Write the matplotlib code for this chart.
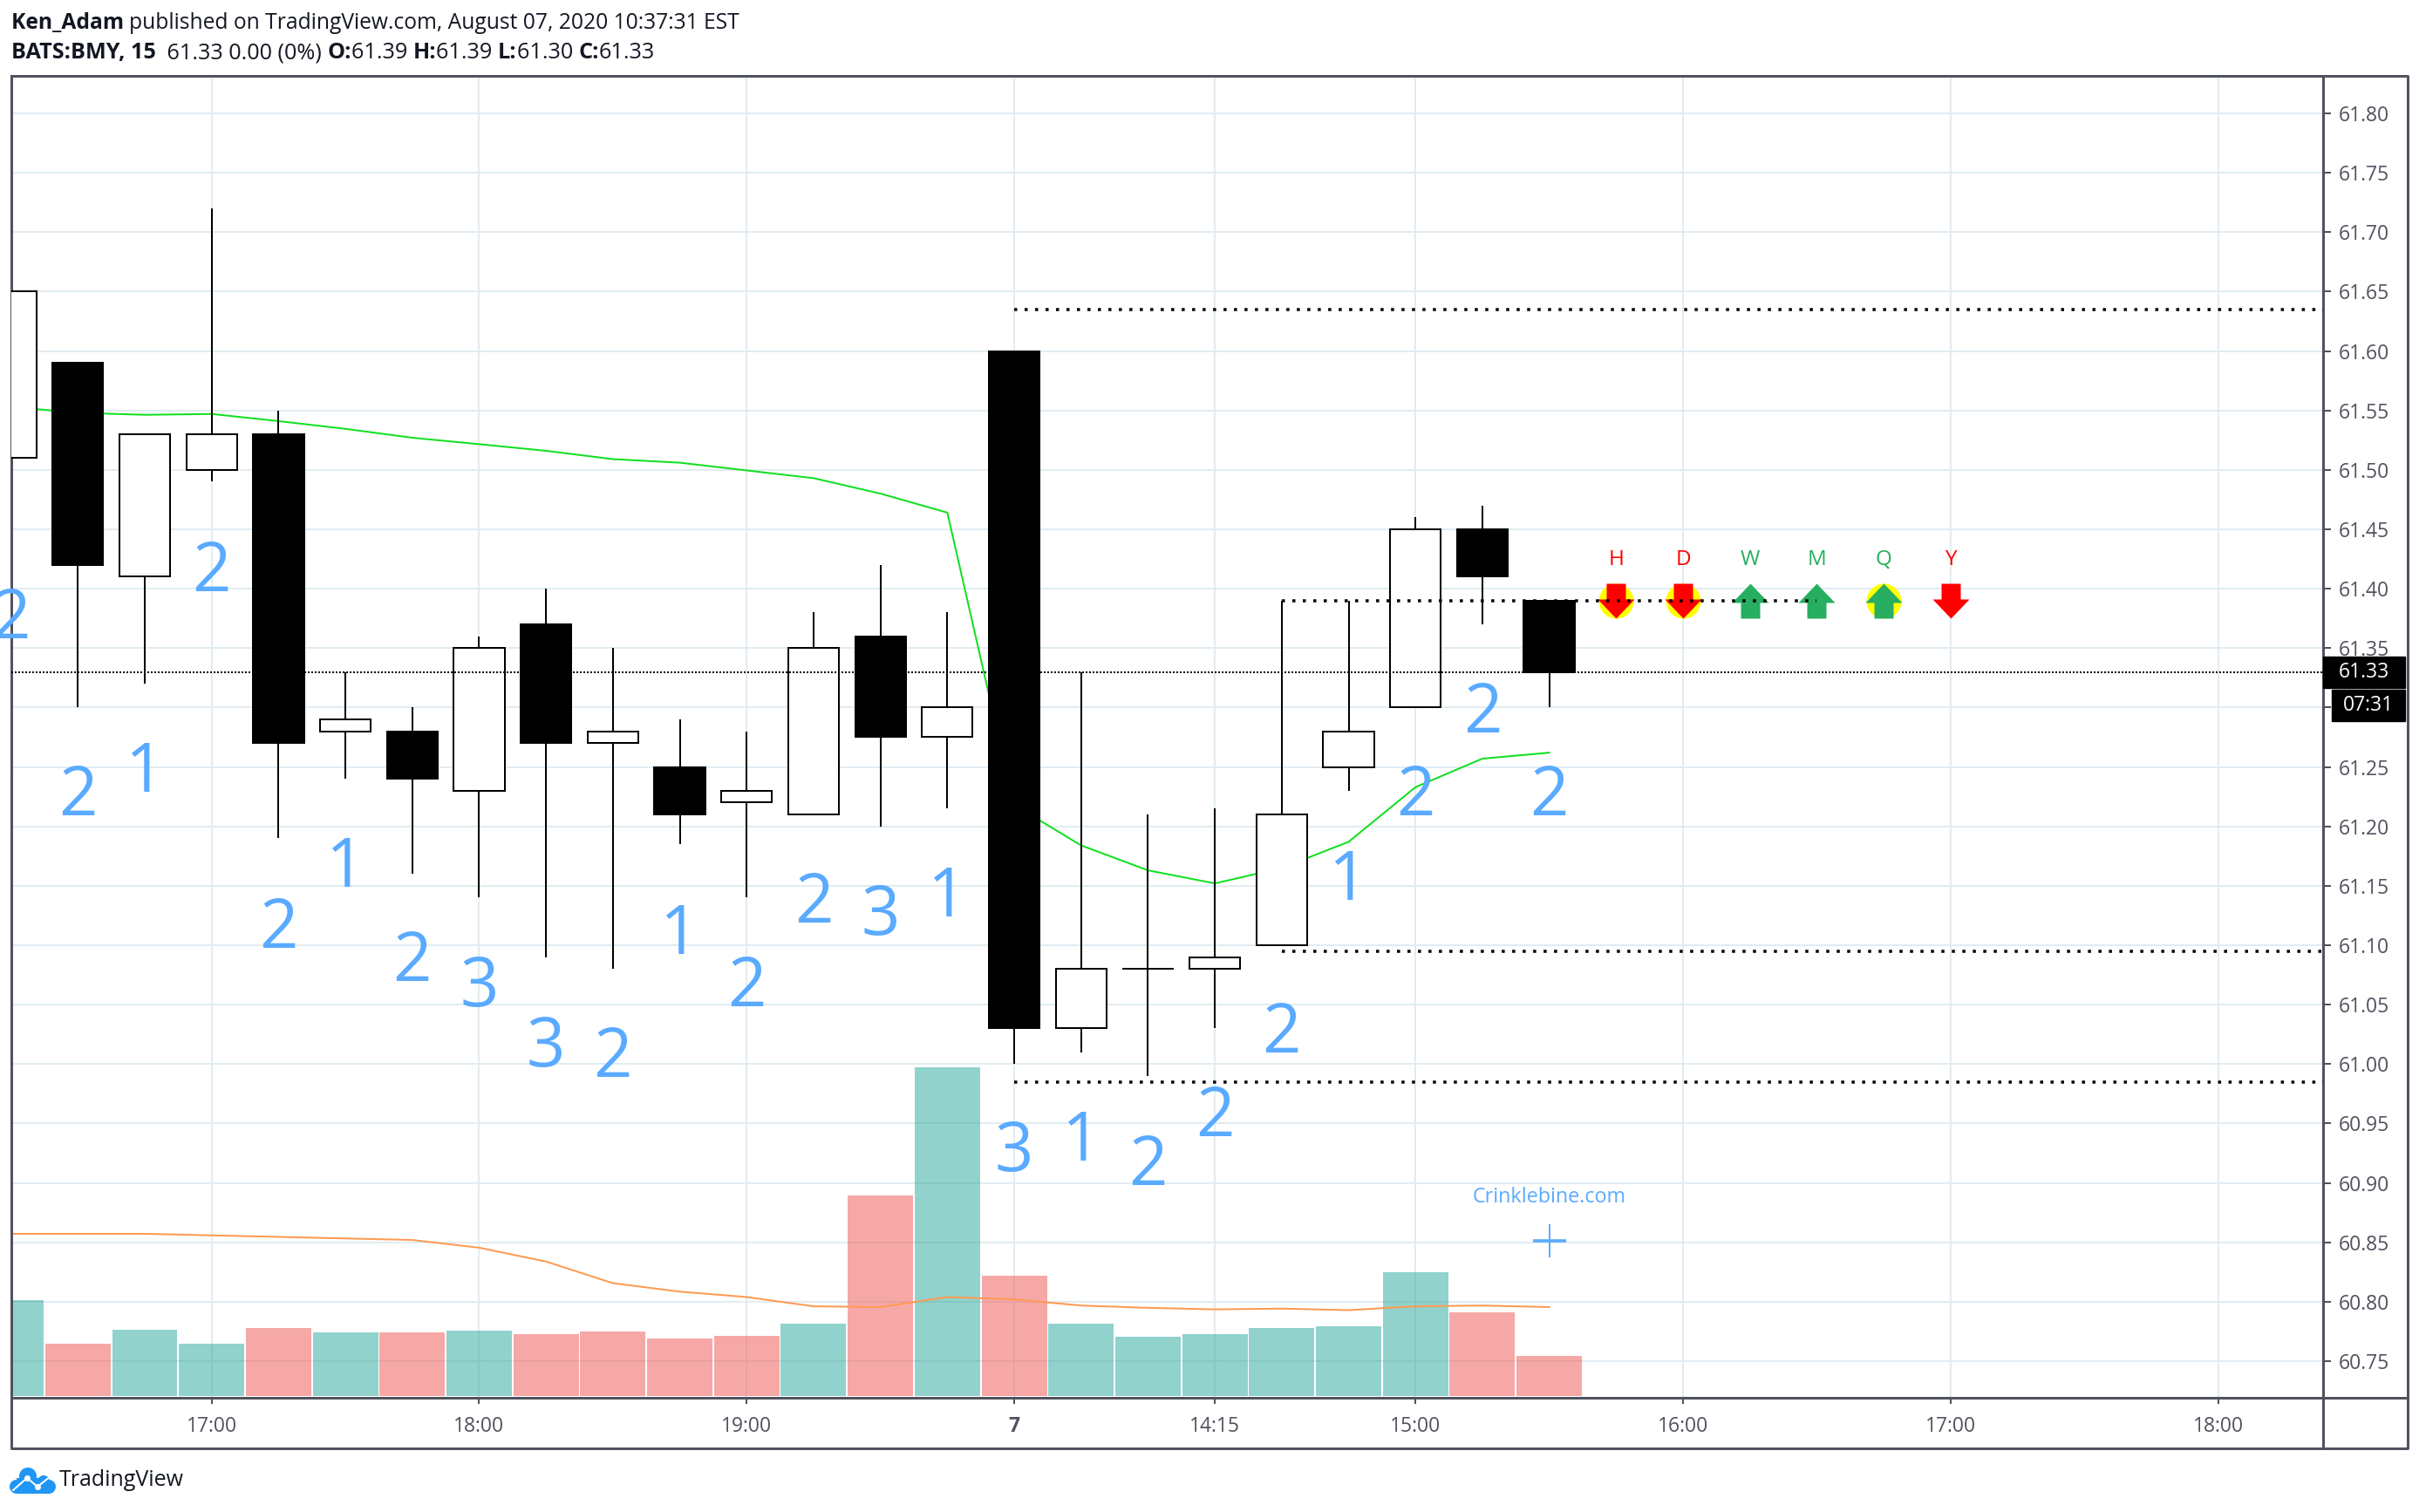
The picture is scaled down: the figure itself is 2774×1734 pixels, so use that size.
import matplotlib
matplotlib.use('Agg')
import matplotlib.pyplot as plt
from matplotlib.patches import Rectangle, Circle
from matplotlib.path import Path
from matplotlib.transforms import Affine2D, blended_transform_factory

plt.rcParams['font.family'] = ['Open Sans', 'DejaVu Sans']

# candles, index 0 is the bar cut by the left edge
opens  = [61.51, 61.59, 61.41, 61.50, 61.53, 61.28, 61.28, 61.23, 61.37, 61.27, 61.25, 61.22,
          61.21, 61.36, 61.275, 61.60, 61.03, 61.08, 61.08, 61.10, 61.25, 61.30, 61.45, 61.39]
highs  = [61.65, 61.59, 61.53, 61.72, 61.55, 61.33, 61.30, 61.36, 61.40, 61.35, 61.29, 61.28,
          61.38, 61.42, 61.38, 61.60, 61.33, 61.21, 61.215, 61.39, 61.39, 61.46, 61.47, 61.39]
lows   = [61.51, 61.30, 61.32, 61.49, 61.19, 61.24, 61.16, 61.14, 61.09, 61.08, 61.185, 61.14,
          61.21, 61.20, 61.215, 61.00, 61.01, 60.99, 61.03, 61.10, 61.23, 61.30, 61.37, 61.30]
closes = [61.65, 61.42, 61.53, 61.53, 61.27, 61.29, 61.24, 61.35, 61.27, 61.28, 61.21, 61.23,
          61.35, 61.275, 61.30, 61.03, 61.08, 61.08, 61.09, 61.21, 61.28, 61.45, 61.41, 61.33]

volumes = [62, 34, 43, 34, 44, 41, 41, 42, 40, 41.5, 37, 39,
           47, 130, 213, 78, 47, 38, 40, 44, 45, 80, 54, 26]
volume_up = [1, 0, 1, 1, 0, 1, 0, 1, 0, 0, 0, 0,
             1, 0, 1, 0, 1, 1, 1, 1, 1, 1, 0, 0]
volume_ma = [105, 105, 105, 104, 103, 102, 101, 96, 87, 73, 67.5, 64,
             58, 57.5, 64, 62.5, 58.5, 57, 56, 56.5, 55.5, 58, 58.5, 57.5]

price_ma = [61.553, 61.548, 61.5463, 61.547, 61.541, 61.5345, 61.527, 61.5216, 61.516, 61.509, 61.506, 61.4995,
            61.493, 61.48, 61.464, 61.218, 61.184, 61.163, 61.152, 61.165, 61.187, 61.233, 61.257, 61.262]

# counted swings under/over the bars
count_text = ['2', '2', '1', '2', '2', '1', '2', '3', '3', '2', '1', '2',
              '2', '3', '1', '3', '1', '2', '2', '2', '1', '2', '2', '2']
count_price = [61.38, 61.231, 61.251, 61.42, 61.12, 61.171, 61.092, 61.071, 61.02, 61.011, 61.115, 61.071,
               61.141, 61.131, 61.146, 60.932, 60.941, 60.92, 60.961, 61.032, 61.16, 61.231, 61.301, 61.231]

# horizontal levels: price, first bar, last bar (None runs to the axis)
levels = [(61.635, 15, None), (61.39, 19, 27), (61.095, 19, None), (60.985, 15, None)]
last_price = 61.33

# H D W M Q Y signals
signal_idx = [24, 25, 26, 27, 28, 29]
signal_text = ['H', 'D', 'W', 'M', 'Q', 'Y']
signal_up = [False, False, True, True, True, False]
signal_ring = [True, True, False, False, True, False]
signal_price = 61.39

y_ticks = [60.75, 60.80, 60.85, 60.90, 60.95, 61.00, 61.05, 61.10, 61.15, 61.20, 61.25, 61.30,
           61.35, 61.40, 61.45, 61.50, 61.55, 61.60, 61.65, 61.70, 61.75, 61.80]
x_ticks = [3, 7, 11, 15, 18, 21, 25, 29, 33]
x_labels = ['17:00', '18:00', '19:00', '7', '14:15', '15:00', '16:00', '17:00', '18:00']

W, H = 2774, 1734
LEFT, RIGHT, TOP, BOTTOM = 12.6, 2664, 87, 1603
OUTER_R, OUTER_B = 2761, 1661
FRAME = '#50535e'
GRID = '#e1ecf2'
BLUE = '#5aaaff'
PX = 72 / 100  # one pixel in points

fig = plt.figure(figsize=(W / 100, H / 100), dpi=100, facecolor='white')
ax = fig.add_axes([LEFT / W, 1 - BOTTOM / H, (RIGHT - LEFT) / W, (BOTTOM - TOP) / H])
ax.set_xlim(0, 34.57)
ax.set_ylim(60.7192, 61.8315)

ax.set_axisbelow(True)
ax.grid(True, color=GRID, lw=2 * PX)
ax.set_yticks(y_ticks)
ax.set_yticklabels([f'{v:.2f}' for v in y_ticks])
ax.set_xticks(x_ticks)
ax.set_xticklabels(x_labels)
ax.get_xticklabels()[3].set_fontweight('bold')
ax.yaxis.tick_right()
ax.tick_params(axis='y', colors=FRAME, length=9 * PX, width=2 * PX, pad=9 * PX, labelsize=16.5)
ax.tick_params(axis='x', colors=FRAME, length=7 * PX, width=2 * PX, pad=14 * PX, labelsize=16.5)
for s in ax.spines.values():
    s.set_color(FRAME)
    s.set_linewidth(3 * PX)

# volume pane shares the x axis, y is in its own units
vol_trans = blended_transform_factory(ax.transData,
                                      Affine2D().translate(0, 1.3).scale(1, 1 / 857) + ax.transAxes)
idx = list(range(len(closes)))
vol_colors = ['#26a69a' if u else '#ef5350' for u in volume_up]
ax.bar(idx, volumes, width=0.977, color=vol_colors, alpha=0.5, lw=0, transform=vol_trans, zorder=1)
ax.plot(idx, volume_ma, color='#ff9a50', lw=2 * PX, transform=vol_trans, zorder=1.5)
ax.set_xlim(0, 34.57)
ax.set_ylim(60.7192, 61.8315)

ax.plot(idx, price_ma, color='#10e020', lw=2 * PX, zorder=2)

ax.vlines(idx, lows, highs, color='black', lw=2 * PX, zorder=3)
for i in idx:
    lo, hi = sorted((opens[i], closes[i]))
    face = 'white' if closes[i] >= opens[i] else 'black'
    ax.bar(i, hi - lo, bottom=lo, width=0.76, color=face, edgecolor='black', lw=2 * PX, zorder=3.2)

for price, first, last in levels:
    end = ax.get_xlim()[1] if last is None else last
    ax.plot([first, end], [price, price], color='black', lw=3.5 * PX, dashes=(1, 2.43), zorder=5)
ax.plot(ax.get_xlim(), [last_price, last_price], color='black', lw=2 * PX, dashes=(1, 1), zorder=5)

for i, txt, price in zip(idx, count_text, count_price):
    ax.text(i, price, txt, color=BLUE, fontsize=56, ha='center', va='center_baseline', zorder=6)

# arrows are in pixels around the centre, a custom marker scales by its largest coord
down_arrow = Path([(-11, 20), (11, 20), (11, 2), (21, 2), (0, -20), (-21, 2), (-11, 2), (-11, 20)], closed=True)
up_arrow = Path([(x, -y) for x, y in down_arrow.vertices], closed=True)
for i, txt, up, has_ring in zip(signal_idx, signal_text, signal_up, signal_ring):
    color = '#27ae60' if up else '#ff0000'
    if has_ring:
        ax.plot(i, signal_price, marker='o', ms=40 * PX, color='#ffff00', mew=0, zorder=3.5)
    ax.plot(i, signal_price, marker=up_arrow if up else down_arrow, ms=42 * PX, color=color, mew=0, zorder=4)
    ax.annotate(txt, (i, signal_price), xytext=(0, 50 * PX), textcoords='offset points', color=color,
                fontsize=17.5, ha='center', va='center_baseline', zorder=4)

ax.text(23, 60.888, 'Crinklebine.com', color=BLUE, fontsize=16.8, ha='center', va='center', zorder=6)
ax.plot(23, 60.851, marker='_', ms=38 * PX, mew=3.6 * PX, color=BLUE, zorder=6)
ax.plot(23, 60.851, marker='|', ms=38 * PX, mew=2 * PX, color=BLUE, zorder=6)

# price tags on the axis
axis_w = RIGHT - LEFT
y_trans = ax.get_yaxis_transform()
ax.add_patch(Rectangle((1, last_price - 18 / 1363), 94 / axis_w, 36 / 1363, transform=y_trans,
                       color='black', clip_on=False, zorder=7))
ax.text(1 + 47 / axis_w, last_price, '61.33', transform=y_trans, color='white', fontsize=16.5,
        ha='center', va='center', zorder=8)
ax.add_patch(Rectangle((1 + 10 / axis_w, last_price - 56 / 1363), 84 / axis_w, 36 / 1363, transform=y_trans,
                       color='black', clip_on=False, zorder=7))
ax.text(1 + 52 / axis_w, last_price - 38 / 1363, '07:31', transform=y_trans, color='white', fontsize=16.5,
        ha='center', va='center', zorder=8)

# page furniture, drawn in image pixels
page = fig.add_axes([0, 0, 1, 1], zorder=10)
page.set_xlim(0, W)
page.set_ylim(H, 0)
page.axis('off')
page.plot([LEFT, LEFT, OUTER_R, OUTER_R, RIGHT], [BOTTOM, OUTER_B, OUTER_B, TOP, TOP], color=FRAME, lw=3 * PX)
page.plot([RIGHT, OUTER_R], [BOTTOM, BOTTOM], color=FRAME, lw=3 * PX)
page.plot([RIGHT, RIGHT], [BOTTOM, OUTER_B], color=FRAME, lw=3 * PX)


def page_width(txt, size, weight, renderer):
    # trailing blanks are not in the text extent, measure with a stop char
    t = page.text(0, 0, txt + '.', fontsize=size, fontweight=weight)
    d = page.text(0, 0, '.', fontsize=size, fontweight=weight)
    w = t.get_window_extent(renderer).width - d.get_window_extent(renderer).width
    t.remove()
    d.remove()
    return w


def draw_runs(x, y, runs, size):
    renderer = fig.canvas.get_renderer()
    for txt, weight in runs:
        t = page.text(x, y, txt, fontsize=size, fontweight=weight, color='#131722', va='baseline', ha='left')
        t.set_parse_math(False)
        x += page_width(txt, size, weight, renderer)


draw_runs(12.6, 33, [('Ken_Adam ', 'bold'), ('published on TradingView.com, August 07, 2020 10:37:31 EST', 'normal')], 17.7)
draw_runs(12.6, 67, [('BATS:BMY, 15 ', 'bold'), (' 61.33 0.00 (0%) ', 'normal'), ('O:', 'bold'), ('61.39 ', 'normal'),
                     ('H:', 'bold'), ('61.39 ', 'normal'), ('L:', 'bold'), ('61.30 ', 'normal'),
                     ('C:', 'bold'), ('61.33', 'normal')], 18.2)

# logo
LOGO = '#2196f3'
for cx, cy, r in [(32, 1693, 10), (50, 1699, 7), (56, 1705, 8), (19, 1705, 8)]:
    page.add_patch(Circle((cx, cy), r, color=LOGO, lw=0))
page.add_patch(Rectangle((19, 1695), 37, 18, color=LOGO, lw=0))
page.plot([15, 31, 43, 58], [1709, 1695, 1705, 1693], color='white', lw=2 * PX)
page.plot([31, 43], [1695, 1705], 'o', color='white', ms=7 * PX, mew=0)
page.text(68, 1698, 'TradingView', fontsize=18, color='#131722', va='center', ha='left')

fig.savefig('out.png', dpi=100)
